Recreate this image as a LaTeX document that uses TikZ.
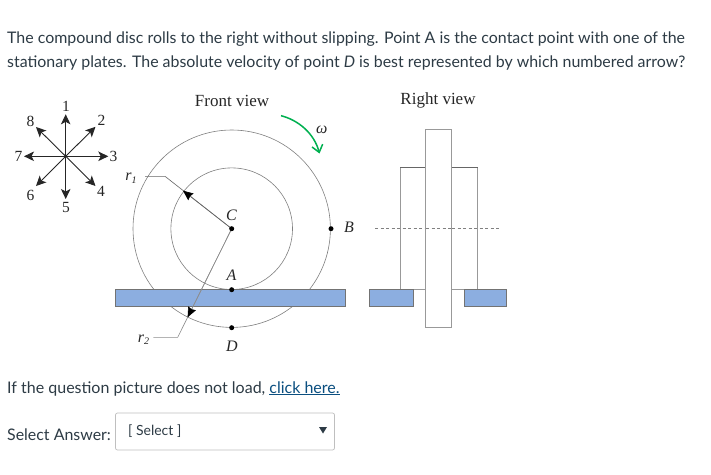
\documentclass[tikz,border=0pt]{standalone}
\usepackage{fontspec}
\setmainfont{Lato}
\newfontfamily\serifx{Liberation Serif}
\usetikzlibrary{arrows.meta}
\definecolor{plate}{HTML}{8CAEE0}
\definecolor{txt}{HTML}{2D3B45}
\definecolor{lnk}{HTML}{0B4F80}
\definecolor{grn}{HTML}{00B050}
\tikzset{
  x=1pt,y=-1pt,
  body/.style={inner sep=0pt,anchor=base west,text=txt,font=\fontsize{15.93}{19}\selectfont},
  fig/.style={inner sep=0pt,text=black!85,font=\serifx\fontsize{15.5}{18}\selectfont},
  title/.style={inner sep=0pt,text=black!85,font=\serifx\fontsize{17}{20}\selectfont},
  figit/.style={inner sep=0pt,text=black!85,font=\serifx\itshape\fontsize{16}{18}\selectfont},
  star/.style={-{Stealth[length=10pt,width=9.5pt,inset=2.5pt]},line width=0.9pt,black!85},
  disc/.style={draw=black!50,line width=0.6pt},
  box/.style={draw=black!40,line width=0.8pt,fill=white},
  platebox/.style={draw=black!55,line width=0.6pt,fill=plate},
  leader/.style={draw=black!60,line width=0.6pt},
  dimtip/.style={-{Stealth[length=10pt,width=8.5pt,inset=1pt,black]}},
  dot/.style={circle,fill=black,inner sep=0pt,minimum size=5pt},
}
\newcommand{\rsub}[1]{\textit{r}\raisebox{-2.5pt}{\fontsize{10}{10}\selectfont\textit{#1}}}
\begin{document}
\begin{tikzpicture}
\useasboundingbox[fill=white] (0,0) rectangle (711,474);
% question
\node[body] (q1) at (7,43) {The compound disc rolls to the right without slipping. Point A is the contact point with one of the};
\node[body] (q2) at (7,67) {stationary plates. The absolute velocity of point \textit{D} is best represented by which numbered arrow?};
% star of arrows
\coordinate (o) at (65.7,156.3);
\coordinate (t1) at (65.7,114.3);
\coordinate (t2) at (95.5,126.8);
\coordinate (t3) at (108.3,156.3);
\coordinate (t4) at (95.5,186);
\coordinate (t5) at (65.7,199);
\coordinate (t6) at (36,186);
\coordinate (t7) at (24,156.3);
\coordinate (t8) at (36,127);
\foreach \i in {1,...,8}{\draw[star] (o) -- (t\i);}
\node[fig] (n1) at (66,106) {1};
\node[fig] (n2) at (101.5,120.5) {2};
\node[fig] (n3) at (113.5,156) {3};
\node[fig] (n4) at (101,191) {4};
\node[fig] (n5) at (66,207) {5};
\node[fig] (n6) at (30.5,195) {6};
\node[fig] (n7) at (18.5,156) {7};
\node[fig] (n8) at (30.5,121) {8};
% titles
\node[title] (front) at (232,100.5) {Front view};
\node[title] (right) at (438,100.5) {Right view};
% front view
\coordinate (C) at (231.7,228.7);
\draw[disc] (C) circle[radius=98.7];
\draw[disc] (C) circle[radius=60.8];
\coordinate (r1a) at (165,176.3);
\coordinate (r1b) at (145,176.3);
\coordinate (r1tip) at (183,190.7);
\coordinate (r2a) at (177.7,337.3);
\coordinate (r2b) at (153.3,337.3);
\coordinate (r2tip) at (187.6,317.3);
\draw[leader] (r1b) -- (r1a) -- (C);
\draw[leader,dimtip] (C) -- (r1tip);
\node[figit] (r1) at (131,178) {\rsub{1}};
\node[figit] (r2) at (143.5,339.5) {\rsub{2}};
\node[platebox,minimum width=230.4pt,minimum height=17pt,inner sep=0pt] (plate) at (230.5,298.2) {};
\draw[leader,black!45] (C) -- (r2a) -- (r2b);
\draw[leader,draw=black!45,dimtip] (C) -- (r2tip);
\node[dot] (Cd) at (C) {};
\node[dot] (Ad) at (231.7,289.7) {};
\node[dot] (Dd) at (231.7,327.7) {};
\node[dot] (Bd) at (331,228.7) {};
\node[figit] (Cl) at (231.5,215) {C};
\node[figit] (Al) at (231.5,275.5) {A};
\node[figit] (Dl) at (232,346) {D};
\node[figit] (Bl) at (349,227) {B};
\coordinate (w1) at (281,115.7);
\coordinate (w2) at (319.5,153.5);
\draw[grn,line width=1.5pt,-{Straight Barb[length=7pt,width=11pt]}] (w1) .. controls (298,120) and (314,133) .. (w2);
\node[figit] (om) at (321.7,130) {ω};
% right view
\node[box,minimum width=76.6pt,minimum height=122.4pt,inner sep=0pt] (hub) at (439,228.5) {};
\draw[black!60,line width=0.8pt] (hub.north west) -- (hub.north east);
\draw[black!50,line width=0.5pt,dash pattern=on 3pt off 2.5pt] (375,228.7) -- (500,228.7);
\node[box,minimum width=26pt,minimum height=198pt,inner sep=0pt] (rim) at (438.3,228.3) {};
\draw[black!50,line width=0.5pt,dash pattern=on 3pt off 2.5pt] (426,228.7) -- (451,228.7);
\node[platebox,minimum width=43.7pt,minimum height=17pt,inner sep=0pt] (pl) at (391.2,298.2) {};
\node[platebox,minimum width=42pt,minimum height=17pt,inner sep=0pt] (pr) at (485.3,298.2) {};
% bottom
\node[body,font=\fontsize{16}{19}\selectfont] (load) at (7,393) {If the question picture does not load, \textcolor{lnk}{\underline{click here.}}};
\node[body] (sel) at (7,440) {Select Answer:};
\node[draw=black!25,line width=0.7pt,rounded corners=2pt,fill=white,minimum width=219pt,minimum height=37pt,inner sep=0pt] (field) at (225,431.5) {};
\node[body,font=\fontsize{14}{17}\selectfont] (opt) at (128,435) {[ Select ]};
\fill[txt] (319,427) -- (327,427) -- (323,433.5) -- cycle;
\end{tikzpicture}
\end{document}
